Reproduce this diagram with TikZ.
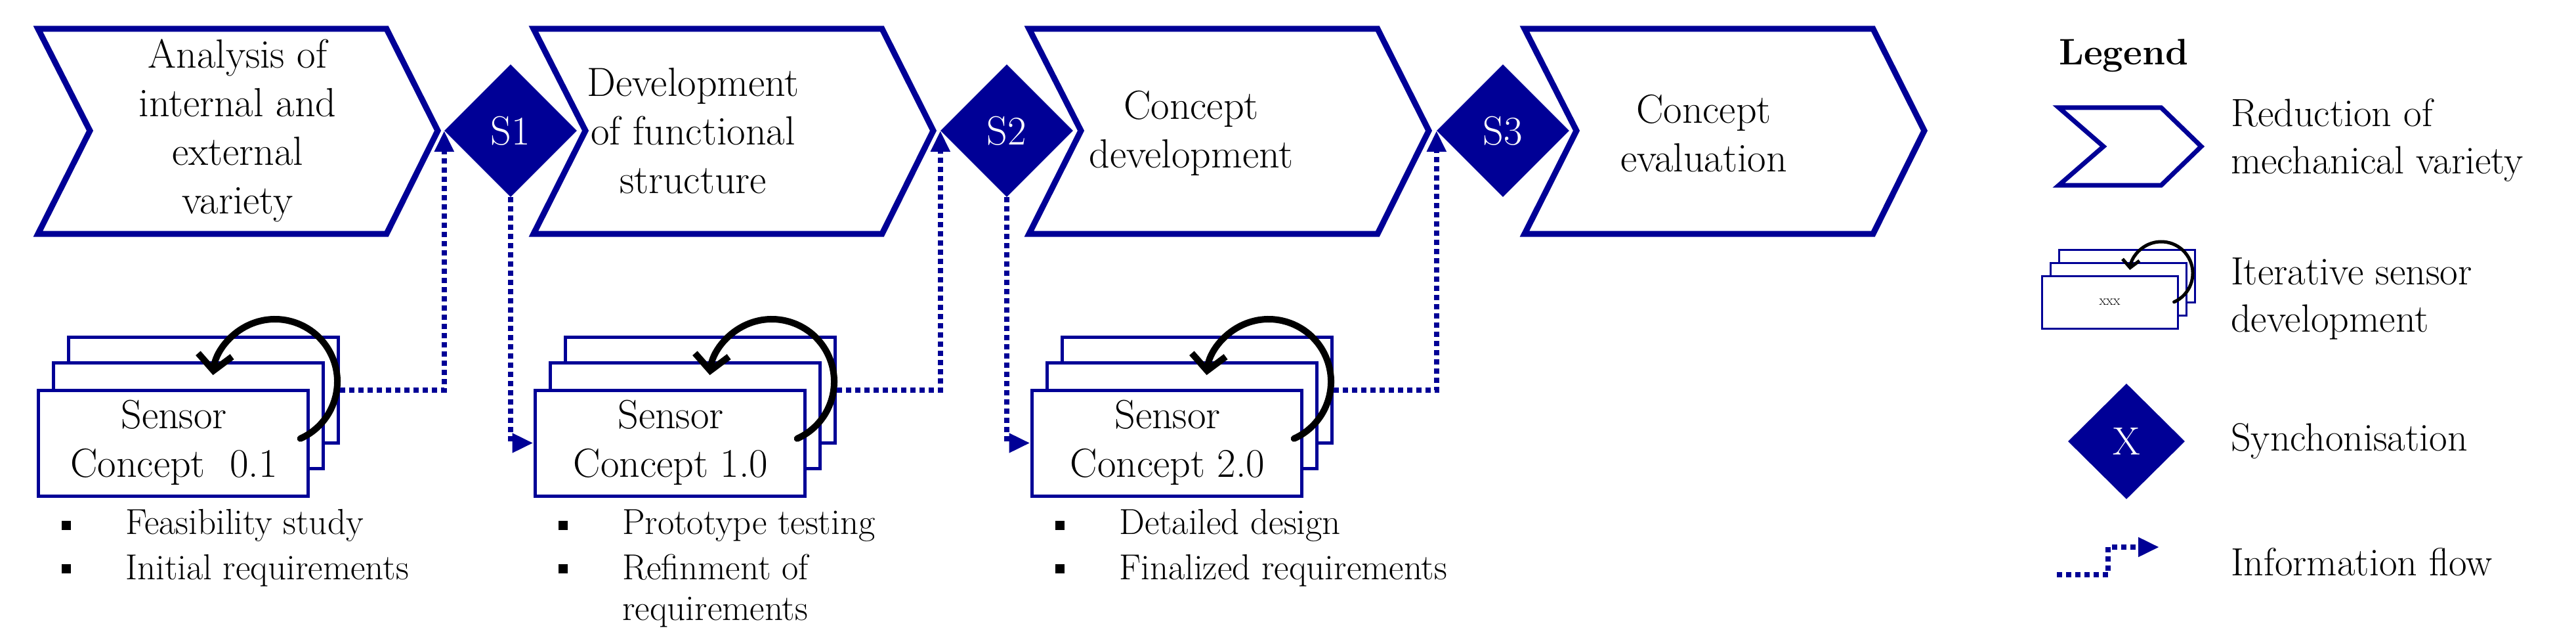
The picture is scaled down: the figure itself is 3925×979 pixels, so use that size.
\documentclass[tikz,border=0pt]{standalone}
\usepackage{fontspec}
\usetikzlibrary{shapes.geometric,arrows.meta,calc}
\definecolor{dblue}{RGB}{0,0,150}
\begin{document}
\begin{tikzpicture}[x=1pt,y=1pt,
  chev/.style={draw=dblue,line width=9pt,fill=white,line join=miter},
  ctext/.style={align=center,font=\rmfamily\fontsize{62}{74}\selectfont,inner sep=0},
  sync/.style={diamond,fill=dblue,text=white,minimum width=202pt,minimum height=202pt,inner sep=0,font=\rmfamily\fontsize{62}{74}\selectfont},
  card/.style={draw=dblue,line width=5pt,fill=white,minimum width=411pt,minimum height=161pt,inner sep=0},
  lcard/.style={draw=dblue,line width=3pt,fill=white,minimum width=207pt,minimum height=80pt,inner sep=0},
  loop/.style={line width=10pt,line cap=round,-{Straight Barb[length=24pt,width=52pt,line width=10pt]}},
  flow/.style={dblue,line width=8pt,dash pattern=on 8pt off 6pt,-{Triangle[length=32pt,width=28pt]}},
  btext/.style={anchor=west,font=\rmfamily\fontsize{55}{62}\selectfont,inner sep=0,align=left},
  bsq/.style={fill=black,minimum size=14pt,inner sep=0},
  ltext/.style={anchor=west,align=left,font=\rmfamily\fontsize{60}{72}\selectfont,inner sep=0}]
\useasboundingbox[fill=white] (0,0) rectangle (3925,-979);
% chevrons
\foreach \i/\x in {1/58,2/813,3/1568,4/2323}{
  \draw[chev] (\x,-44) -- ++(531,0) -- ++(78,-155) -- ++(-78,-157) -- ++(-531,0) -- ++(79,157) -- cycle;
}
\node[ctext] (c1) at (362,-199) {Analysis of\\internal and\\external\\variety};
\node[ctext] (c2) at (1056,-199) {Development\\of functional\\structure};
\node[ctext] (c3) at (1815,-203) {Concept\\development};
\node[ctext] (c4) at (2596,-203) {Concept\\evaluation};
% sync diamonds
\node[sync] (S1) at (778,-199) {S1};
\node[sync] (S2) at (1534,-199) {S2};
\node[sync] (S3) at (2290,-199) {S3};
% sensor cards
\foreach \i/\x/\t in {1/58/{Sensor\\Concept~~0.1},2/815/{Sensor\\Concept 1.0},3/1572/{Sensor\\Concept 2.0}}{
  \node[card] (back\i) at (\x+46+205.5,-593.5) {};
  \node[card] (mid\i) at (\x+23+205.5,-633) {};
  \node[card] (front\i) at (\x+205.5,-674.5) {};
  \node[ctext] (t\i) at (\x+207,-674) {\t};
  \draw[loop] (\x+361+95*cos -66,-581+95*sin -66) arc[start angle=-66,end angle=174,radius=95];
}
% bullets
\foreach \x/\a/\b in {58/{Feasibility study}/{Initial requirements},815/{Prototype testing}/{Refinment of\\requirements},1572/{Detailed design}/{Finalized requirements}}{
  \node[bsq] at (\x+43,-800) {};
  \node[bsq] at (\x+43,-866) {};
  \node[btext] at (\x+133,-800) {\a};
  \node[btext,anchor=north west] at (\x+133,-844) {\b};
}
% flows
\draw[flow] (back1.east) -| (S1.west);
\draw[flow] (S1.south) |- (front2.west);
\draw[flow] (back2.east) -| (S2.west);
\draw[flow] (S2.south) |- (front3.west);
\draw[flow] (back3.east) -| (S3.west);
% legend
\node[anchor=west,inner sep=0,font=\rmfamily\bfseries\fontsize{56}{64}\selectfont] (leg) at (3137,-85) {Legend};
\draw[chev,line width=7pt] (3137,-164) -- (3293,-164) -- (3354,-223) -- (3293,-282) -- (3137,-282) -- (3205,-223) -- cycle;
\node[ltext] (l1) at (3399,-214) {Reduction of\\mechanical variety};
\node[lcard] (lb3) at (3240.5,-420) {};
\node[lcard] (lb2) at (3227.5,-440) {};
\node[lcard,font=\rmfamily\fontsize{22}{24}\selectfont] (lb1) at (3214.5,-460) {xxx};
\draw[line width=5pt,line cap=round,-{Straight Barb[length=12pt,width=26pt,line width=5pt]}] (3293+48*cos -66,-416+48*sin -66) arc[start angle=-66,end angle=174,radius=48];
\node[ltext] (l2) at (3399,-455) {Iterative sensor\\development};
\node[sync,minimum width=178pt,minimum height=176pt,font=\rmfamily\fontsize{60}{64}\selectfont] (lx) at (3240,-672) {X};
\node[ltext] (l3) at (3399,-672) {Synchonisation};
\coordinate (fa) at (3134,-875);
\coordinate (fb) at (3290,-833);
\draw[flow] (fa) -- (3212,-875) |- (fb);
\node[ltext] (l4) at (3399,-856) {Information flow};
\end{tikzpicture}
\end{document}
